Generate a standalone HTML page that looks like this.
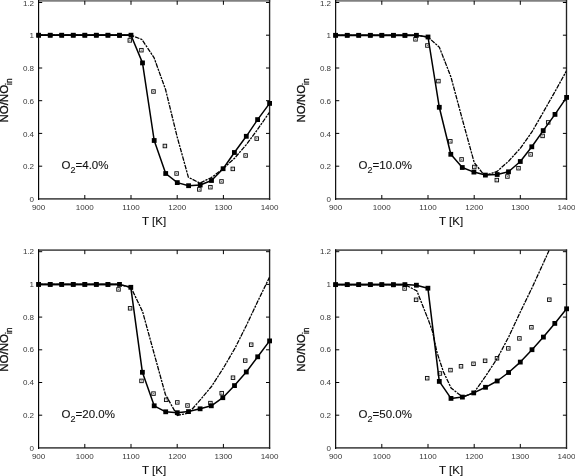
<!DOCTYPE html>
<html lang="en"><head><meta charset="utf-8"><title>NO/NOin vs T</title>
<style>html,body{margin:0;padding:0;background:#fff;}body{width:575px;height:476px;overflow:hidden;}svg{display:block;}text{font-family:"Liberation Sans",Arial,Helvetica,sans-serif;fill:#111;}.tk{font-size:8.05px;fill:#383838;}.lb{font-size:11.5px;stroke:#111;stroke-width:0.1px;}.yl{stroke-width:0.3px;}.sb{font-size:9px;}.sb2{font-size:8.4px;}</style></head><body>
<svg width="575" height="476" viewBox="0 0 575 476">
<rect width="575" height="476" fill="#fff"/>
<g id="panel1">
<path d="M38.05 0.8H270.20" fill="none" stroke="#808080" stroke-width="1.7"/>
<path d="M38.05 198.90H270.20" fill="none" stroke="#555" stroke-width="1.75"/>
<path d="M38.6 0.00V200.00" fill="none" stroke="#000" stroke-width="1.15"/>
<path d="M269.6 0.00V200.00" fill="none" stroke="#222" stroke-width="1.35"/>
<path d="M84.8 198.9v-3.9M84.8 0.8v4.0M131.0 198.9v-3.9M131.0 0.8v4.0M177.2 198.9v-3.9M177.2 0.8v4.0M223.4 198.9v-3.9M223.4 0.8v4.0M38.6 166.2h3.6M269.6 166.2h-3.6M38.6 133.4h3.6M269.6 133.4h-3.6M38.6 100.7h3.6M269.6 100.7h-3.6M38.6 68.0h3.6M269.6 68.0h-3.6M38.6 35.2h3.6M269.6 35.2h-3.6M38.6 2.5h3.6M269.6 2.5h-3.6" stroke="#000" stroke-width="1" fill="none"/>
<text class="tk" x="38.6" y="209.8" text-anchor="middle">900</text>
<text class="tk" x="84.8" y="209.8" text-anchor="middle">1000</text>
<text class="tk" x="131.0" y="209.8" text-anchor="middle">1100</text>
<text class="tk" x="177.2" y="209.8" text-anchor="middle">1200</text>
<text class="tk" x="223.4" y="209.8" text-anchor="middle">1300</text>
<text class="tk" x="269.6" y="209.8" text-anchor="middle">1400</text>
<text class="tk" x="34.1" y="202.00" text-anchor="end">0</text>
<text class="tk" x="34.1" y="169.27" text-anchor="end">0.2</text>
<text class="tk" x="34.1" y="136.53" text-anchor="end">0.4</text>
<text class="tk" x="34.1" y="103.80" text-anchor="end">0.6</text>
<text class="tk" x="34.1" y="71.07" text-anchor="end">0.8</text>
<text class="tk" x="34.1" y="38.33" text-anchor="end">1</text>
<text class="tk" x="34.1" y="5.60" text-anchor="end">1.2</text>
<text class="lb" x="154.1" y="224.6" text-anchor="middle">T [K]</text>
<text class="lb yl" transform="translate(8.3,122.6) rotate(-90)">NO/NO<tspan class="sb2" dy="3.5">in</tspan></text>
<text class="lb" x="61.6" y="169.3">O<tspan class="sb" dy="3.4">2</tspan><tspan dy="-3.4">=4.0%</tspan></text>
<g fill="#fff" stroke="#111" stroke-width="0.95"><rect x="36.95" y="33.55" width="3.5" height="3.5"/><rect x="48.45" y="33.55" width="3.5" height="3.5"/><rect x="60.05" y="33.55" width="3.5" height="3.5"/><rect x="71.55" y="33.55" width="3.5" height="3.5"/><rect x="83.15" y="33.55" width="3.5" height="3.5"/><rect x="94.65" y="33.55" width="3.5" height="3.5"/><rect x="106.25" y="33.55" width="3.5" height="3.5"/><rect x="117.75" y="33.85" width="3.5" height="3.5"/><rect x="128.05" y="38.65" width="3.5" height="3.5"/><rect x="139.65" y="48.45" width="3.5" height="3.5"/><rect x="151.75" y="89.75" width="3.5" height="3.5"/><rect x="163.15" y="144.25" width="3.5" height="3.5"/><rect x="174.85" y="171.75" width="3.5" height="3.5"/><rect x="197.55" y="187.65" width="3.5" height="3.5"/><rect x="208.65" y="185.45" width="3.5" height="3.5"/><rect x="219.75" y="179.65" width="3.5" height="3.5"/><rect x="231.05" y="167.15" width="3.5" height="3.5"/><rect x="243.85" y="153.75" width="3.5" height="3.5"/><rect x="254.95" y="136.85" width="3.5" height="3.5"/></g>
<g fill="#777"><rect x="38.15" y="34.75" width="1.1" height="1.1"/><rect x="49.65" y="34.75" width="1.1" height="1.1"/><rect x="61.25" y="34.75" width="1.1" height="1.1"/><rect x="72.75" y="34.75" width="1.1" height="1.1"/><rect x="84.35" y="34.75" width="1.1" height="1.1"/><rect x="95.85" y="34.75" width="1.1" height="1.1"/><rect x="107.45" y="34.75" width="1.1" height="1.1"/><rect x="118.95" y="35.05" width="1.1" height="1.1"/><rect x="129.25" y="39.85" width="1.1" height="1.1"/><rect x="140.85" y="49.65" width="1.1" height="1.1"/><rect x="152.95" y="90.95" width="1.1" height="1.1"/><rect x="164.35" y="145.45" width="1.1" height="1.1"/><rect x="176.05" y="172.95" width="1.1" height="1.1"/><rect x="198.75" y="188.85" width="1.1" height="1.1"/><rect x="209.85" y="186.65" width="1.1" height="1.1"/><rect x="220.95" y="180.85" width="1.1" height="1.1"/><rect x="232.25" y="168.35" width="1.1" height="1.1"/><rect x="245.05" y="154.95" width="1.1" height="1.1"/><rect x="256.15" y="138.05" width="1.1" height="1.1"/></g>
<clipPath id="c1"><rect x="38.6" y="0.8" width="231.00000000000003" height="198.1"/></clipPath>
<polyline points="38.6,35.2 131.0,35.2 141.9,39.5 154.0,57.6 165.5,89.3 177.2,137.0 188.4,177.3 199.8,183.1 211.5,177.5 223.1,168.7 234.6,158.2 246.3,144.7 257.6,129.4 269.6,112.1" fill="none" stroke="#000" stroke-width="1.3" stroke-dasharray="4.6 1 2.2 1" clip-path="url(#c1)"/>
<polyline points="38.6,35.2 50.2,35.2 61.7,35.2 73.2,35.2 84.8,35.2 96.3,35.2 107.9,35.2 119.5,35.2 131.0,35.2 142.5,62.9 154.2,140.5 165.7,173.5 177.3,182.6 188.6,185.7 200.2,185.0 211.5,180.5 223.1,168.7 234.4,152.5 246.3,136.3 257.6,119.6 269.6,103.4" fill="none" stroke="#000" stroke-width="1.5" stroke-linejoin="round"/>
<path d="M38.6 35.2H131.0" stroke="#000" stroke-width="1.8" fill="none"/>
<g fill="#000"><rect x="36.2" y="32.8" width="4.8" height="4.8"/><rect x="47.8" y="32.8" width="4.8" height="4.8"/><rect x="59.3" y="32.8" width="4.8" height="4.8"/><rect x="70.8" y="32.8" width="4.8" height="4.8"/><rect x="82.4" y="32.8" width="4.8" height="4.8"/><rect x="93.9" y="32.8" width="4.8" height="4.8"/><rect x="105.5" y="32.8" width="4.8" height="4.8"/><rect x="117.1" y="32.8" width="4.8" height="4.8"/><rect x="128.6" y="32.8" width="4.8" height="4.8"/><rect x="140.1" y="60.5" width="4.8" height="4.8"/><rect x="151.8" y="138.1" width="4.8" height="4.8"/><rect x="163.3" y="171.1" width="4.8" height="4.8"/><rect x="174.9" y="180.2" width="4.8" height="4.8"/><rect x="186.2" y="183.3" width="4.8" height="4.8"/><rect x="197.8" y="182.6" width="4.8" height="4.8"/><rect x="209.1" y="178.1" width="4.8" height="4.8"/><rect x="220.7" y="166.3" width="4.8" height="4.8"/><rect x="232.0" y="150.1" width="4.8" height="4.8"/><rect x="243.9" y="133.9" width="4.8" height="4.8"/><rect x="255.2" y="117.2" width="4.8" height="4.8"/><rect x="267.2" y="101.0" width="4.8" height="4.8"/></g>
</g>
<g id="panel2">
<path d="M335.10 0.8H567.10" fill="none" stroke="#808080" stroke-width="1.7"/>
<path d="M335.10 198.90H567.10" fill="none" stroke="#555" stroke-width="1.75"/>
<path d="M335.65 0.00V200.00" fill="none" stroke="#000" stroke-width="1.15"/>
<path d="M566.5 0.00V200.00" fill="none" stroke="#222" stroke-width="1.35"/>
<path d="M381.8 198.9v-3.9M381.8 0.8v4.0M428.0 198.9v-3.9M428.0 0.8v4.0M474.2 198.9v-3.9M474.2 0.8v4.0M520.3 198.9v-3.9M520.3 0.8v4.0M335.65 166.2h3.6M566.5 166.2h-3.6M335.65 133.4h3.6M566.5 133.4h-3.6M335.65 100.7h3.6M566.5 100.7h-3.6M335.65 68.0h3.6M566.5 68.0h-3.6M335.65 35.2h3.6M566.5 35.2h-3.6M335.65 2.5h3.6M566.5 2.5h-3.6" stroke="#000" stroke-width="1" fill="none"/>
<text class="tk" x="335.6" y="209.8" text-anchor="middle">900</text>
<text class="tk" x="381.8" y="209.8" text-anchor="middle">1000</text>
<text class="tk" x="428.0" y="209.8" text-anchor="middle">1100</text>
<text class="tk" x="474.2" y="209.8" text-anchor="middle">1200</text>
<text class="tk" x="520.3" y="209.8" text-anchor="middle">1300</text>
<text class="tk" x="566.5" y="209.8" text-anchor="middle">1400</text>
<text class="tk" x="331.1" y="202.00" text-anchor="end">0</text>
<text class="tk" x="331.1" y="169.27" text-anchor="end">0.2</text>
<text class="tk" x="331.1" y="136.53" text-anchor="end">0.4</text>
<text class="tk" x="331.1" y="103.80" text-anchor="end">0.6</text>
<text class="tk" x="331.1" y="71.07" text-anchor="end">0.8</text>
<text class="tk" x="331.1" y="38.33" text-anchor="end">1</text>
<text class="tk" x="331.1" y="5.60" text-anchor="end">1.2</text>
<text class="lb" x="451.1" y="224.6" text-anchor="middle">T [K]</text>
<text class="lb yl" transform="translate(305.3,122.6) rotate(-90)">NO/NO<tspan class="sb2" dy="3.5">in</tspan></text>
<text class="lb" x="358.6" y="169.3">O<tspan class="sb" dy="3.4">2</tspan><tspan dy="-3.4">=10.0%</tspan></text>
<g fill="#fff" stroke="#111" stroke-width="0.95"><rect x="333.95" y="33.55" width="3.5" height="3.5"/><rect x="345.55" y="33.55" width="3.5" height="3.5"/><rect x="357.05" y="33.55" width="3.5" height="3.5"/><rect x="368.65" y="33.55" width="3.5" height="3.5"/><rect x="380.15" y="33.55" width="3.5" height="3.5"/><rect x="391.75" y="33.55" width="3.5" height="3.5"/><rect x="403.25" y="33.75" width="3.5" height="3.5"/><rect x="413.75" y="37.55" width="3.5" height="3.5"/><rect x="425.65" y="43.75" width="3.5" height="3.5"/><rect x="436.65" y="79.35" width="3.5" height="3.5"/><rect x="448.55" y="139.55" width="3.5" height="3.5"/><rect x="459.85" y="157.65" width="3.5" height="3.5"/><rect x="472.55" y="165.25" width="3.5" height="3.5"/><rect x="495.05" y="178.35" width="3.5" height="3.5"/><rect x="505.65" y="174.75" width="3.5" height="3.5"/><rect x="516.75" y="166.45" width="3.5" height="3.5"/><rect x="528.85" y="152.65" width="3.5" height="3.5"/><rect x="540.85" y="134.15" width="3.5" height="3.5"/><rect x="546.45" y="120.65" width="3.5" height="3.5"/></g>
<g fill="#777"><rect x="335.15" y="34.75" width="1.1" height="1.1"/><rect x="346.75" y="34.75" width="1.1" height="1.1"/><rect x="358.25" y="34.75" width="1.1" height="1.1"/><rect x="369.85" y="34.75" width="1.1" height="1.1"/><rect x="381.35" y="34.75" width="1.1" height="1.1"/><rect x="392.95" y="34.75" width="1.1" height="1.1"/><rect x="404.45" y="34.95" width="1.1" height="1.1"/><rect x="414.95" y="38.75" width="1.1" height="1.1"/><rect x="426.85" y="44.95" width="1.1" height="1.1"/><rect x="437.85" y="80.55" width="1.1" height="1.1"/><rect x="449.75" y="140.75" width="1.1" height="1.1"/><rect x="461.05" y="158.85" width="1.1" height="1.1"/><rect x="473.75" y="166.45" width="1.1" height="1.1"/><rect x="496.25" y="179.55" width="1.1" height="1.1"/><rect x="506.85" y="175.95" width="1.1" height="1.1"/><rect x="517.95" y="167.65" width="1.1" height="1.1"/><rect x="530.05" y="153.85" width="1.1" height="1.1"/><rect x="542.05" y="135.35" width="1.1" height="1.1"/><rect x="547.65" y="121.85" width="1.1" height="1.1"/></g>
<clipPath id="c2"><rect x="335.65" y="0.8" width="230.85000000000002" height="198.1"/></clipPath>
<polyline points="335.6,35.3 416.5,35.3 428.0,37.0 439.4,47.3 451.0,77.2 462.5,120.0 474.2,162.5 483.0,173.7 485.6,175.4 497.1,171.4 508.8,161.0 520.3,148.3 531.9,132.0 543.4,112.0 555.0,91.6 566.5,70.8" fill="none" stroke="#000" stroke-width="1.3" stroke-dasharray="4.6 1 2.2 1" clip-path="url(#c2)"/>
<polyline points="335.6,35.3 347.2,35.3 358.7,35.3 370.3,35.3 381.8,35.3 393.4,35.3 404.9,35.3 416.4,35.3 428.0,37.0 439.3,107.3 450.8,154.3 462.3,167.5 473.9,172.1 485.4,175.1 497.2,174.5 508.5,171.8 520.3,161.5 531.8,146.8 543.2,130.6 555.0,114.4 566.6,97.4" fill="none" stroke="#000" stroke-width="1.5" stroke-linejoin="round"/>
<path d="M335.65 35.3H416.4" stroke="#000" stroke-width="1.8" fill="none"/>
<g fill="#000"><rect x="333.2" y="32.9" width="4.8" height="4.8"/><rect x="344.8" y="32.9" width="4.8" height="4.8"/><rect x="356.3" y="32.9" width="4.8" height="4.8"/><rect x="367.9" y="32.9" width="4.8" height="4.8"/><rect x="379.4" y="32.9" width="4.8" height="4.8"/><rect x="391.0" y="32.9" width="4.8" height="4.8"/><rect x="402.5" y="32.9" width="4.8" height="4.8"/><rect x="414.0" y="32.9" width="4.8" height="4.8"/><rect x="425.6" y="34.6" width="4.8" height="4.8"/><rect x="436.9" y="104.9" width="4.8" height="4.8"/><rect x="448.4" y="151.9" width="4.8" height="4.8"/><rect x="459.9" y="165.1" width="4.8" height="4.8"/><rect x="471.5" y="169.7" width="4.8" height="4.8"/><rect x="483.0" y="172.7" width="4.8" height="4.8"/><rect x="494.8" y="172.1" width="4.8" height="4.8"/><rect x="506.1" y="169.4" width="4.8" height="4.8"/><rect x="517.9" y="159.1" width="4.8" height="4.8"/><rect x="529.4" y="144.4" width="4.8" height="4.8"/><rect x="540.8" y="128.2" width="4.8" height="4.8"/><rect x="552.6" y="112.0" width="4.8" height="4.8"/><rect x="564.2" y="95.0" width="4.8" height="4.8"/></g>
</g>
<g id="panel3">
<path d="M38.05 250.15H270.20" fill="none" stroke="#5a5a5a" stroke-width="1.7"/>
<path d="M38.05 447.85H270.20" fill="none" stroke="#555" stroke-width="1.75"/>
<path d="M38.6 249.35V448.95" fill="none" stroke="#000" stroke-width="1.15"/>
<path d="M269.6 249.35V448.95" fill="none" stroke="#222" stroke-width="1.35"/>
<path d="M84.8 447.85v-3.9M84.8 250.15v4.0M131.0 447.85v-3.9M131.0 250.15v4.0M177.2 447.85v-3.9M177.2 250.15v4.0M223.4 447.85v-3.9M223.4 250.15v4.0M38.6 415.2h3.6M269.6 415.2h-3.6M38.6 382.5h3.6M269.6 382.5h-3.6M38.6 349.8h3.6M269.6 349.8h-3.6M38.6 317.1h3.6M269.6 317.1h-3.6M38.6 284.4h3.6M269.6 284.4h-3.6M38.6 251.7h3.6M269.6 251.7h-3.6" stroke="#000" stroke-width="1" fill="none"/>
<text class="tk" x="38.6" y="458.8" text-anchor="middle">900</text>
<text class="tk" x="84.8" y="458.8" text-anchor="middle">1000</text>
<text class="tk" x="131.0" y="458.8" text-anchor="middle">1100</text>
<text class="tk" x="177.2" y="458.8" text-anchor="middle">1200</text>
<text class="tk" x="223.4" y="458.8" text-anchor="middle">1300</text>
<text class="tk" x="269.6" y="458.8" text-anchor="middle">1400</text>
<text class="tk" x="34.1" y="450.50" text-anchor="end">0</text>
<text class="tk" x="34.1" y="417.81" text-anchor="end">0.2</text>
<text class="tk" x="34.1" y="385.12" text-anchor="end">0.4</text>
<text class="tk" x="34.1" y="352.43" text-anchor="end">0.6</text>
<text class="tk" x="34.1" y="319.73" text-anchor="end">0.8</text>
<text class="tk" x="34.1" y="287.04" text-anchor="end">1</text>
<text class="tk" x="34.1" y="254.35" text-anchor="end">1.2</text>
<text class="lb" x="154.1" y="473.6" text-anchor="middle">T [K]</text>
<text class="lb yl" transform="translate(8.3,371.7) rotate(-90)">NO/NO<tspan class="sb2" dy="3.5">in</tspan></text>
<text class="lb" x="61.6" y="418.2">O<tspan class="sb" dy="3.4">2</tspan><tspan dy="-3.4">=20.0%</tspan></text>
<g fill="#fff" stroke="#111" stroke-width="0.95"><rect x="36.95" y="282.75" width="3.5" height="3.5"/><rect x="48.45" y="282.75" width="3.5" height="3.5"/><rect x="60.05" y="282.75" width="3.5" height="3.5"/><rect x="71.55" y="282.75" width="3.5" height="3.5"/><rect x="83.15" y="282.75" width="3.5" height="3.5"/><rect x="94.65" y="282.75" width="3.5" height="3.5"/><rect x="106.25" y="282.85" width="3.5" height="3.5"/><rect x="116.75" y="287.65" width="3.5" height="3.5"/><rect x="128.35" y="306.55" width="3.5" height="3.5"/><rect x="139.75" y="379.15" width="3.5" height="3.5"/><rect x="151.75" y="391.85" width="3.5" height="3.5"/><rect x="164.45" y="398.05" width="3.5" height="3.5"/><rect x="175.55" y="400.65" width="3.5" height="3.5"/><rect x="185.75" y="403.75" width="3.5" height="3.5"/><rect x="208.65" y="401.35" width="3.5" height="3.5"/><rect x="219.95" y="391.45" width="3.5" height="3.5"/><rect x="231.25" y="375.95" width="3.5" height="3.5"/><rect x="243.45" y="358.85" width="3.5" height="3.5"/><rect x="249.45" y="342.95" width="3.5" height="3.5"/></g>
<g fill="#777"><rect x="38.15" y="283.95" width="1.1" height="1.1"/><rect x="49.65" y="283.95" width="1.1" height="1.1"/><rect x="61.25" y="283.95" width="1.1" height="1.1"/><rect x="72.75" y="283.95" width="1.1" height="1.1"/><rect x="84.35" y="283.95" width="1.1" height="1.1"/><rect x="95.85" y="283.95" width="1.1" height="1.1"/><rect x="107.45" y="284.05" width="1.1" height="1.1"/><rect x="117.95" y="288.85" width="1.1" height="1.1"/><rect x="129.55" y="307.75" width="1.1" height="1.1"/><rect x="140.95" y="380.35" width="1.1" height="1.1"/><rect x="152.95" y="393.05" width="1.1" height="1.1"/><rect x="165.65" y="399.25" width="1.1" height="1.1"/><rect x="176.75" y="401.85" width="1.1" height="1.1"/><rect x="186.95" y="404.95" width="1.1" height="1.1"/><rect x="209.85" y="402.55" width="1.1" height="1.1"/><rect x="221.15" y="392.65" width="1.1" height="1.1"/><rect x="232.45" y="377.15" width="1.1" height="1.1"/><rect x="244.65" y="360.05" width="1.1" height="1.1"/><rect x="250.65" y="344.15" width="1.1" height="1.1"/></g>
<clipPath id="c3"><rect x="38.6" y="250.15" width="231.00000000000003" height="197.70000000000002"/></clipPath>
<polyline points="38.6,284.4 119.4,284.4 131.0,287.5 142.6,311.7 154.1,353.5 165.4,394.5 177.3,415.5 188.7,413.0 200.0,400.2 211.5,386.5 223.4,368.0 235.0,348.2 246.5,325.2 258.0,300.8 269.6,277.0" fill="none" stroke="#000" stroke-width="1.3" stroke-dasharray="4.6 1 2.2 1" clip-path="url(#c3)"/>
<polyline points="38.6,284.4 50.2,284.4 61.7,284.4 73.2,284.4 84.8,284.4 96.3,284.4 107.9,284.4 119.5,284.4 130.8,287.3 142.4,372.3 154.2,405.8 165.7,411.8 177.3,412.7 188.5,411.6 200.1,408.8 211.3,405.8 222.8,397.7 234.5,385.6 246.3,372.0 257.7,356.8 269.6,340.9" fill="none" stroke="#000" stroke-width="1.5" stroke-linejoin="round"/>
<path d="M38.6 284.4H119.5" stroke="#000" stroke-width="1.8" fill="none"/>
<g fill="#000"><rect x="36.2" y="282.0" width="4.8" height="4.8"/><rect x="47.8" y="282.0" width="4.8" height="4.8"/><rect x="59.3" y="282.0" width="4.8" height="4.8"/><rect x="70.8" y="282.0" width="4.8" height="4.8"/><rect x="82.4" y="282.0" width="4.8" height="4.8"/><rect x="93.9" y="282.0" width="4.8" height="4.8"/><rect x="105.5" y="282.0" width="4.8" height="4.8"/><rect x="117.1" y="282.0" width="4.8" height="4.8"/><rect x="128.4" y="284.9" width="4.8" height="4.8"/><rect x="140.0" y="369.9" width="4.8" height="4.8"/><rect x="151.8" y="403.4" width="4.8" height="4.8"/><rect x="163.3" y="409.4" width="4.8" height="4.8"/><rect x="174.9" y="410.3" width="4.8" height="4.8"/><rect x="186.1" y="409.2" width="4.8" height="4.8"/><rect x="197.7" y="406.4" width="4.8" height="4.8"/><rect x="208.9" y="403.4" width="4.8" height="4.8"/><rect x="220.4" y="395.3" width="4.8" height="4.8"/><rect x="232.1" y="383.2" width="4.8" height="4.8"/><rect x="243.9" y="369.6" width="4.8" height="4.8"/><rect x="255.3" y="354.4" width="4.8" height="4.8"/><rect x="267.2" y="338.5" width="4.8" height="4.8"/></g>
</g>
<g id="panel4">
<path d="M335.10 250.15H567.10" fill="none" stroke="#5a5a5a" stroke-width="1.7"/>
<path d="M335.10 447.85H567.10" fill="none" stroke="#555" stroke-width="1.75"/>
<path d="M335.65 249.35V448.95" fill="none" stroke="#000" stroke-width="1.15"/>
<path d="M566.5 249.35V448.95" fill="none" stroke="#222" stroke-width="1.35"/>
<path d="M381.8 447.85v-3.9M381.8 250.15v4.0M428.0 447.85v-3.9M428.0 250.15v4.0M474.2 447.85v-3.9M474.2 250.15v4.0M520.3 447.85v-3.9M520.3 250.15v4.0M335.65 415.2h3.6M566.5 415.2h-3.6M335.65 382.5h3.6M566.5 382.5h-3.6M335.65 349.8h3.6M566.5 349.8h-3.6M335.65 317.1h3.6M566.5 317.1h-3.6M335.65 284.4h3.6M566.5 284.4h-3.6M335.65 251.7h3.6M566.5 251.7h-3.6" stroke="#000" stroke-width="1" fill="none"/>
<text class="tk" x="335.6" y="458.8" text-anchor="middle">900</text>
<text class="tk" x="381.8" y="458.8" text-anchor="middle">1000</text>
<text class="tk" x="428.0" y="458.8" text-anchor="middle">1100</text>
<text class="tk" x="474.2" y="458.8" text-anchor="middle">1200</text>
<text class="tk" x="520.3" y="458.8" text-anchor="middle">1300</text>
<text class="tk" x="566.5" y="458.8" text-anchor="middle">1400</text>
<text class="tk" x="331.1" y="450.50" text-anchor="end">0</text>
<text class="tk" x="331.1" y="417.81" text-anchor="end">0.2</text>
<text class="tk" x="331.1" y="385.12" text-anchor="end">0.4</text>
<text class="tk" x="331.1" y="352.43" text-anchor="end">0.6</text>
<text class="tk" x="331.1" y="319.73" text-anchor="end">0.8</text>
<text class="tk" x="331.1" y="287.04" text-anchor="end">1</text>
<text class="tk" x="331.1" y="254.35" text-anchor="end">1.2</text>
<text class="lb" x="451.1" y="473.6" text-anchor="middle">T [K]</text>
<text class="lb yl" transform="translate(305.3,371.7) rotate(-90)">NO/NO<tspan class="sb2" dy="3.5">in</tspan></text>
<text class="lb" x="358.6" y="418.2">O<tspan class="sb" dy="3.4">2</tspan><tspan dy="-3.4">=50.0%</tspan></text>
<g fill="#fff" stroke="#111" stroke-width="0.95"><rect x="333.95" y="283.05" width="3.5" height="3.5"/><rect x="345.55" y="283.05" width="3.5" height="3.5"/><rect x="357.05" y="283.05" width="3.5" height="3.5"/><rect x="368.65" y="283.05" width="3.5" height="3.5"/><rect x="380.15" y="283.05" width="3.5" height="3.5"/><rect x="391.55" y="283.25" width="3.5" height="3.5"/><rect x="402.85" y="286.75" width="3.5" height="3.5"/><rect x="414.35" y="298.05" width="3.5" height="3.5"/><rect x="425.45" y="376.45" width="3.5" height="3.5"/><rect x="438.15" y="371.75" width="3.5" height="3.5"/><rect x="448.75" y="368.35" width="3.5" height="3.5"/><rect x="459.25" y="364.55" width="3.5" height="3.5"/><rect x="471.75" y="362.05" width="3.5" height="3.5"/><rect x="483.35" y="359.05" width="3.5" height="3.5"/><rect x="495.25" y="356.55" width="3.5" height="3.5"/><rect x="506.55" y="346.65" width="3.5" height="3.5"/><rect x="517.65" y="336.65" width="3.5" height="3.5"/><rect x="529.65" y="325.55" width="3.5" height="3.5"/><rect x="547.55" y="297.95" width="3.5" height="3.5"/></g>
<g fill="#777"><rect x="335.15" y="284.25" width="1.1" height="1.1"/><rect x="346.75" y="284.25" width="1.1" height="1.1"/><rect x="358.25" y="284.25" width="1.1" height="1.1"/><rect x="369.85" y="284.25" width="1.1" height="1.1"/><rect x="381.35" y="284.25" width="1.1" height="1.1"/><rect x="392.75" y="284.45" width="1.1" height="1.1"/><rect x="404.05" y="287.95" width="1.1" height="1.1"/><rect x="415.55" y="299.25" width="1.1" height="1.1"/><rect x="426.65" y="377.65" width="1.1" height="1.1"/><rect x="439.35" y="372.95" width="1.1" height="1.1"/><rect x="449.95" y="369.55" width="1.1" height="1.1"/><rect x="460.45" y="365.75" width="1.1" height="1.1"/><rect x="472.95" y="363.25" width="1.1" height="1.1"/><rect x="484.55" y="360.25" width="1.1" height="1.1"/><rect x="496.45" y="357.75" width="1.1" height="1.1"/><rect x="507.75" y="347.85" width="1.1" height="1.1"/><rect x="518.85" y="337.85" width="1.1" height="1.1"/><rect x="530.85" y="326.75" width="1.1" height="1.1"/><rect x="548.75" y="299.15" width="1.1" height="1.1"/></g>
<clipPath id="c4"><rect x="335.65" y="250.15" width="230.85000000000002" height="197.70000000000002"/></clipPath>
<polyline points="335.6,284.6 400.0,284.6 405.1,284.7 416.9,291.0 428.0,319.0 432.7,332.0 436.8,351.8 439.5,360.0 443.5,372.0 451.1,388.0 462.5,397.0 473.9,392.8 485.7,376.0 497.2,358.5 508.8,336.7 520.3,312.0 531.9,288.1 543.4,263.0 549.5,249.5 555.0,237.0" fill="none" stroke="#000" stroke-width="1.3" stroke-dasharray="4.6 1 2.2 1" clip-path="url(#c4)"/>
<polyline points="335.6,284.6 347.2,284.6 358.7,284.6 370.3,284.6 381.8,284.6 393.4,284.6 404.9,284.6 416.4,285.2 427.9,288.2 439.3,381.4 451.0,398.4 462.4,397.1 473.7,392.9 485.5,387.3 497.2,381.0 508.6,372.5 520.3,362.1 532.0,349.7 543.4,337.1 554.8,323.4 566.6,308.8" fill="none" stroke="#000" stroke-width="1.5" stroke-linejoin="round"/>
<path d="M335.65 284.6H404.9" stroke="#000" stroke-width="1.8" fill="none"/>
<g fill="#000"><rect x="333.2" y="282.2" width="4.8" height="4.8"/><rect x="344.8" y="282.2" width="4.8" height="4.8"/><rect x="356.3" y="282.2" width="4.8" height="4.8"/><rect x="367.9" y="282.2" width="4.8" height="4.8"/><rect x="379.4" y="282.2" width="4.8" height="4.8"/><rect x="391.0" y="282.2" width="4.8" height="4.8"/><rect x="402.5" y="282.2" width="4.8" height="4.8"/><rect x="414.0" y="282.8" width="4.8" height="4.8"/><rect x="425.5" y="285.8" width="4.8" height="4.8"/><rect x="436.9" y="379.0" width="4.8" height="4.8"/><rect x="448.6" y="396.0" width="4.8" height="4.8"/><rect x="460.0" y="394.7" width="4.8" height="4.8"/><rect x="471.3" y="390.5" width="4.8" height="4.8"/><rect x="483.1" y="384.9" width="4.8" height="4.8"/><rect x="494.8" y="378.6" width="4.8" height="4.8"/><rect x="506.2" y="370.1" width="4.8" height="4.8"/><rect x="517.9" y="359.7" width="4.8" height="4.8"/><rect x="529.6" y="347.3" width="4.8" height="4.8"/><rect x="541.0" y="334.7" width="4.8" height="4.8"/><rect x="552.4" y="321.0" width="4.8" height="4.8"/><rect x="564.2" y="306.4" width="4.8" height="4.8"/></g>
</g>
</svg></body></html>
